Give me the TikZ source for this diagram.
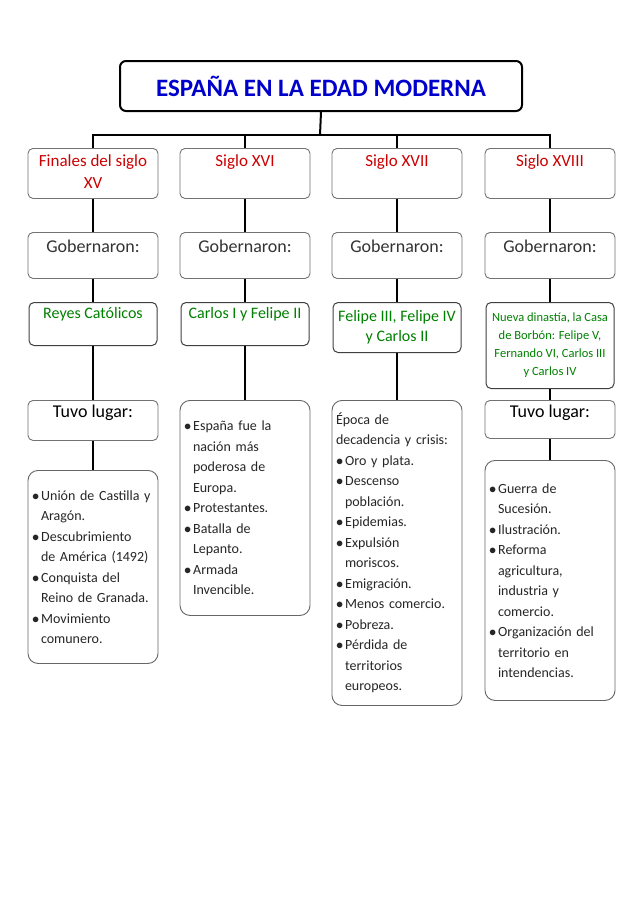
\documentclass[tikz,border=0pt]{standalone}
\usepackage{fontspec}
\setmainfont{Carlito}
\newcommand{\bu}{$\bullet$\hspace{2pt}}
\newcommand{\ind}{\hspace*{9pt}}
\begin{document}
\begin{tikzpicture}[x=1pt,y=-1pt,
 box/.style={draw=black!55,line width=0.9pt,rounded corners=5pt,anchor=north,inner sep=4pt,align=center},
 lst/.style={draw=black!60,line width=0.9pt,rounded corners=10pt,anchor=north,inner sep=4pt,align=left,font=\fontsize{14}{20.5}\selectfont,text=black!85},
 ln/.style={line width=2pt}]
\useasboundingbox[fill=white] (0,0) rectangle (638,902);
\node[draw,line width=2pt,rounded corners=6pt,minimum width=402pt,minimum height=50pt,anchor=north,font=\fontsize{25}{28}\selectfont\bfseries,text=blue!80!black] (t) at (321,60) {ESPAÑA EN LA EDAD MODERNA};
\coordinate (bar) at (320,135);
\foreach \i/\x in {1/93,2/245,3/397,4/550}{
 \node[box,minimum width=130pt,minimum height=50pt] (s\i) at (\x,148) {};
 \node[box,minimum width=130pt,minimum height=46pt] (g\i) at (\x,232) {};
 \node[anchor=north,font=\fontsize{18}{21}\selectfont,text=black!80] at (\x,236) {Gobernaron:};
}
\tikzset{red/.style={anchor=north,align=center,font=\fontsize{17}{22}\selectfont,text=red!80!black}}
\node[red] at (93,151) {Finales del siglo\\XV};
\node[red] at (245,151) {Siglo XVI};
\node[red] at (397,151) {Siglo XVII};
\node[red] at (550,151) {Siglo XVIII};
\draw[ln] (t.south) -- (bar);
\draw[ln] (s1.north) |- (bar) -| (s4.north);
\draw[ln] (s2.north) -- (s2.north|-bar);
\draw[ln] (s3.north) -- (s3.north|-bar);
\tikzset{gr/.style={draw=black!75,line width=1pt,rounded corners=5pt,anchor=north,align=center,text=green!50!black,minimum width=128pt,inner sep=2pt}}
\node[gr,minimum height=43pt,font=\fontsize{16}{22}\selectfont,text depth=22pt] (r1) at (93,302) {Reyes Católicos};
\node[gr,minimum height=43pt,font=\fontsize{16}{22}\selectfont,text depth=22pt] (r2) at (245,302) {Carlos I y Felipe II};
\node[gr,minimum height=50pt,font=\fontsize{16}{20}\selectfont] (r3) at (397,302) {Felipe III, Felipe IV\\y Carlos II};
\node[gr,minimum height=86pt,font=\fontsize{12.5}{18}\selectfont] (r4) at (550,302) {Nueva dinastía, la Casa\\de Borbón: Felipe V,\\Fernando VI, Carlos III\\y Carlos IV};
\foreach \i in {1,2,3,4}{\draw[ln] (s\i) -- (g\i); \draw[ln] (g\i) -- (r\i);}
\node[box,minimum width=130pt,minimum height=40pt,font=\fontsize{18}{21}\selectfont,text depth=18pt] (tu1) at (93,400) {Tuvo lugar:};
\node[box,minimum width=130pt,minimum height=38pt,font=\fontsize{18}{21}\selectfont,text depth=16pt] (tu4) at (550,400) {Tuvo lugar:};
\node[lst,minimum width=130pt,minimum height=193pt,text width=122pt] (l1) at (93,470) {%
\bu Unión de Castilla y\\\ind Aragón.\\\bu Descubrimiento\\\ind de América (1492)\\\bu Conquista del\\\ind Reino de Granada.\\\bu Movimiento\\\ind comunero.};
\node[lst,minimum width=130pt,minimum height=215pt,text width=122pt] (l2) at (245,400) {%
\bu España fue la\\\ind nación más\\\ind poderosa de\\\ind Europa.\\\bu Protestantes.\\\bu Batalla de\\\ind Lepanto.\\\bu Armada\\\ind Invencible.};
\node[lst,minimum width=130pt,minimum height=305pt,text width=122pt] (l3) at (397,400) {%
Época de\\decadencia y crisis:\\\bu Oro y plata.\\\bu Descenso\\\ind población.\\\bu Epidemias.\\\bu Expulsión\\\ind moriscos.\\\bu Emigración.\\\bu Menos comercio.\\\bu Pobreza.\\\bu Pérdida de\\\ind territorios\\\ind europeos.};
\node[lst,minimum width=130pt,minimum height=240pt,text width=122pt] (l4) at (550,460) {%
\bu Guerra de\\\ind Sucesión.\\\bu Ilustración.\\\bu Reforma\\\ind agricultura,\\\ind industria y\\\ind comercio.\\\bu Organización del\\\ind territorio en\\\ind intendencias.};
\draw[ln] (r1) -- (tu1); \draw[ln] (tu1) -- (l1);
\draw[ln] (r2) -- (l2); \draw[ln] (r3) -- (l3);
\draw[ln] (r4) -- (tu4); \draw[ln] (tu4) -- (l4);
\end{tikzpicture}
\end{document}
